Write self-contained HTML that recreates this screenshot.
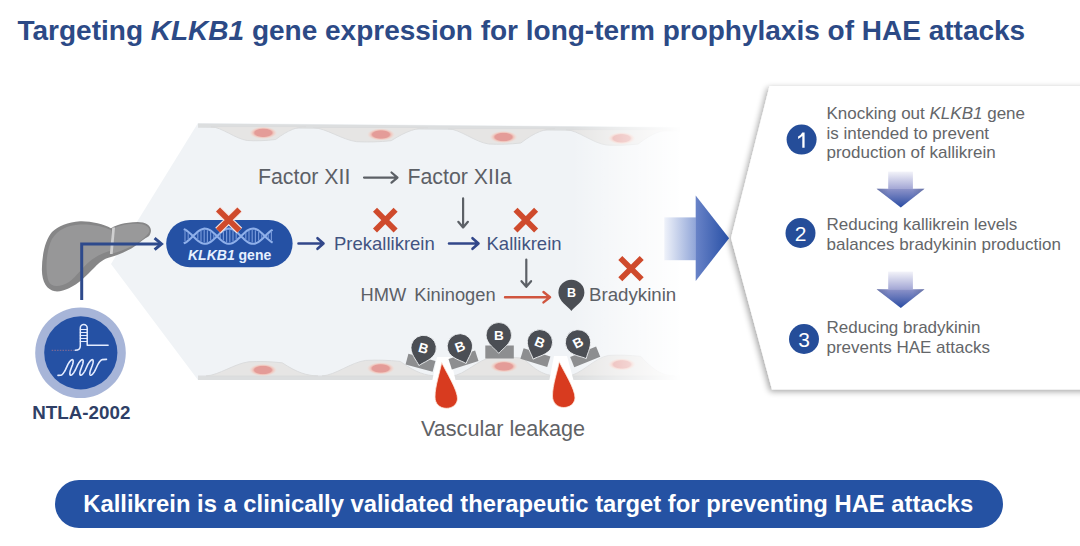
<!DOCTYPE html>
<html><head><meta charset="utf-8">
<style>
html,body{margin:0;padding:0;background:#fff;width:1080px;height:546px;overflow:hidden}
svg{display:block}
text{font-family:"Liberation Sans",sans-serif}
</style></head>
<body>
<svg width="1080" height="546" viewBox="0 0 1080 546">
<defs>
  <linearGradient id="fadeR" x1="0" x2="1" y1="0" y2="0">
    <stop offset="0" stop-color="#fff" stop-opacity="0"/>
    <stop offset="0.4" stop-color="#fff" stop-opacity="0.45"/>
    <stop offset="1" stop-color="#fff" stop-opacity="1"/>
  </linearGradient>
  <linearGradient id="bigArrowBody" gradientUnits="userSpaceOnUse" x1="664" x2="696" y1="0" y2="0">
    <stop offset="0" stop-color="#f0f3fa"/>
    <stop offset="1" stop-color="#90a5d8"/>
  </linearGradient>
  <linearGradient id="bigArrowHead" gradientUnits="userSpaceOnUse" x1="695" x2="729" y1="0" y2="0">
    <stop offset="0" stop-color="#6a84c8"/>
    <stop offset="1" stop-color="#2850a6"/>
  </linearGradient>
  <linearGradient id="daBody" x1="0" x2="0" y1="0" y2="1">
    <stop offset="0" stop-color="#f3f3f9"/>
    <stop offset="1" stop-color="#a3a7d5"/>
  </linearGradient>
  <linearGradient id="daHead" x1="0" x2="0" y1="0" y2="1">
    <stop offset="0" stop-color="#8d93c9"/>
    <stop offset="1" stop-color="#2a4ca3"/>
  </linearGradient>
  <linearGradient id="daWing" x1="0" x2="1" y1="0" y2="0">
    <stop offset="0" stop-color="#4a5a8a" stop-opacity="0.55"/>
    <stop offset="0.25" stop-color="#4a5a8a" stop-opacity="0"/>
    <stop offset="0.75" stop-color="#4a5a8a" stop-opacity="0"/>
    <stop offset="1" stop-color="#4a5a8a" stop-opacity="0.55"/>
  </linearGradient>
  <filter id="shadow" x="-10%" y="-10%" width="130%" height="130%">
    <feGaussianBlur in="SourceAlpha" stdDeviation="3" result="b1"/>
    <feOffset in="b1" dx="-2.5" dy="2" result="o1"/>
    <feComponentTransfer in="o1" result="s1"><feFuncA type="linear" slope="0.36"/></feComponentTransfer>
    <feMerge><feMergeNode in="s1"/><feMergeNode in="SourceGraphic"/></feMerge>
  </filter>
  <filter id="soft" x="-20%" y="-20%" width="140%" height="140%">
    <feGaussianBlur stdDeviation="0.6"/>
  </filter>
  <radialGradient id="nuc" cx="0.5" cy="0.5" r="0.5">
    <stop offset="0.6" stop-color="#e49c98"/>
    <stop offset="0.72" stop-color="#f0c4bb"/>
    <stop offset="1" stop-color="#f3dcd4" stop-opacity="0"/>
  </radialGradient>
  <g id="pin">
    <path d="M0,18.2 C-3,14 -12.7,8.5 -12.7,0 A12.7,12.7 0 1 1 12.7,0 C12.7,8.5 3,14 0,18.2 Z" fill="#4b4e54" stroke="#f4f6f8" stroke-width="0.8"/>
    <text x="0" y="4.9" font-size="13.6" font-weight="bold" fill="#fff" text-anchor="middle">B</text>
  </g>
</defs>

<!-- Title -->
<text x="17.5" y="39.8" font-size="28" font-weight="bold" fill="#2c4a86">Targeting <tspan font-style="italic">KLKB1</tspan> gene expression for long-term prophylaxis of HAE attacks</text>

<!-- Right panel -->
<polygon points="769.5,86 1100,86 1100,389.5 772,389.5 731,238" fill="#fff" filter="url(#shadow)"/>

<!-- Vessel background -->
<polygon points="198,123 680,127 680,380 198,380 111,264" fill="#f0f3f6"/>

<!-- Top wall -->
<g>
  <path d="M198,123.5 L680,127.5 L680,131.5 L198,127.8 Z" fill="#dcdedf"/>
  <path d="M211.0,126.6 C222.4,127.6 234.8,138.5 247.1,140.5 C255.7,141.0 266.1,140.8 275.6,139.5 C288.9,129.6 296.5,127.1 306.0,126.6 Z" fill="#e6e5e4" stroke="#d9dadb" stroke-width="0.9"/>
  <path d="M313.0,127.5 C326.8,128.5 341.8,139.7 356.7,141.7 C367.1,142.2 379.7,142.0 391.2,140.7 C407.3,130.5 416.5,128.0 428.0,127.5 Z" fill="#e6e5e4" stroke="#d9dadb" stroke-width="0.9"/>
  <path d="M448.0,128.6 C460.8,129.6 474.8,142.0 488.7,144.0 C498.3,144.5 510.1,144.3 520.8,143.0 C535.7,131.6 544.3,129.1 555.0,128.6 Z" fill="#e6e5e4" stroke="#d9dadb" stroke-width="0.9"/>
  <path d="M566.0,129.6 C578.7,130.6 592.5,143.0 606.3,145.0 C615.8,145.5 627.5,145.3 638.1,144.0 C652.9,132.6 661.4,130.1 672.0,129.6 Z" fill="#e6e5e4" stroke="#d9dadb" stroke-width="0.9"/>
  <ellipse cx="263.3" cy="132.8" rx="14" ry="6.2" fill="url(#nuc)"/>
  <ellipse cx="381" cy="134.5" rx="14" ry="6.2" fill="url(#nuc)"/>
  <ellipse cx="503.5" cy="137" rx="14" ry="6.2" fill="url(#nuc)"/>
  <ellipse cx="621.7" cy="138.3" rx="14" ry="6.2" fill="url(#nuc)"/>
</g>
<!-- Bottom wall -->
<g>
  <path d="M198,375.5 L680,375.5 L680,380 L198,380 Z" fill="#dcdedf"/>
  <path d="M206.0,376.0 C219.4,375.0 234.0,363.8 248.6,361.8 C258.6,361.3 271.0,361.5 282.2,362.8 C297.8,373.0 306.8,375.5 318.0,376.0 Z" fill="#e6e5e4" stroke="#d9dadb" stroke-width="0.9"/>
  <path d="M322.0,376.0 C335.8,375.0 350.8,362.4 365.7,360.4 C376.1,359.9 388.7,360.1 400.2,361.4 C416.3,373.0 425.5,375.5 437.0,376.0 Z" fill="#e6e5e4" stroke="#d9dadb" stroke-width="0.9"/>
  <path d="M452.0,376.0 C464.6,375.0 478.2,359.3 491.9,357.3 C501.4,356.8 512.9,357.0 523.4,358.3 C538.1,373.0 546.5,375.5 557.0,376.0 Z" fill="#e6e5e4" stroke="#d9dadb" stroke-width="0.9"/>
  <path d="M568.0,376.0 C580.8,375.0 594.8,357.4 608.7,355.4 C618.3,354.9 630.1,355.1 640.8,356.4 C655.7,373.0 664.3,375.5 675.0,376.0 Z" fill="#e6e5e4" stroke="#d9dadb" stroke-width="0.9"/>
  <ellipse cx="263" cy="370" rx="14" ry="6.2" fill="url(#nuc)"/>
  <ellipse cx="380.7" cy="368.4" rx="14" ry="6.2" fill="url(#nuc)"/>
  <ellipse cx="504" cy="366.4" rx="14" ry="6.2" fill="url(#nuc)"/>
  <ellipse cx="622" cy="364.4" rx="14" ry="6.2" fill="url(#nuc)"/>
</g>
<!-- fade to white on right -->
<rect x="572" y="105" width="110" height="290" fill="url(#fadeR)"/>
<!-- leak gaps -->
<path d="M437,357 L450,357 L456,382 L432,382 Z" fill="#fff"/>
<path d="M554,356 L567,356 L574,382 L549,382 Z" fill="#fff"/>

<!-- Big arrow -->
<rect x="664.3" y="217.4" width="31.6" height="42.8" fill="url(#bigArrowBody)"/>
<polygon points="695.7,195.4 729.1,238.2 695.7,281" fill="url(#bigArrowHead)"/>

<!-- Right panel content -->
<g font-size="17" fill="#646669">
  <circle cx="801.6" cy="139.6" r="15" fill="#254d99"/>
  <path d="M802.3,132.4 H804.6 V147.7 H802.3 V136 Q800.6,137.8 798.1,138.9 V136.6 Q800.9,135.1 802.3,132.4 Z" fill="#fff"/>
  <text x="826.5" y="119.2">Knocking out <tspan font-style="italic">KLKB1</tspan> gene</text>
  <text x="826.5" y="138.8">is intended to prevent</text>
  <text x="826.5" y="158.1">production of kallikrein</text>
  <rect x="888.2" y="171.6" width="24.7" height="17.3" fill="url(#daBody)"/>
  <polygon points="876.6,188.7 924.5,188.7 900.8,207.4" fill="url(#daHead)"/>
  <polygon points="876.6,188.7 924.5,188.7 900.8,207.4" fill="url(#daWing)"/>
  <circle cx="800.5" cy="233" r="15" fill="#254d99"/>
  <text x="800.5" y="240.5" font-size="21" fill="#fff" text-anchor="middle">2</text>
  <text x="826.5" y="229.5">Reducing kallikrein levels</text>
  <text x="826.5" y="249.7">balances bradykinin production</text>
  <rect x="888.2" y="271.6" width="24.7" height="17.8" fill="url(#daBody)"/>
  <polygon points="876.6,289.2 924.5,289.2 900.8,307.9" fill="url(#daHead)"/>
  <polygon points="876.6,289.2 924.5,289.2 900.8,307.9" fill="url(#daWing)"/>
  <circle cx="804" cy="339" r="15" fill="#254d99"/>
  <text x="804" y="346.5" font-size="21" fill="#fff" text-anchor="middle">3</text>
  <text x="826.5" y="333">Reducing bradykinin</text>
  <text x="826.5" y="353.3">prevents HAE attacks</text>
</g>

<!-- Pathway texts -->
<g font-size="21.3" fill="#5c6066">
  <text x="258" y="183.9">Factor XII</text>
  <text x="407.5" y="183.9">Factor XIIa</text>
</g>
<g fill="none" stroke="#5c6066" stroke-width="2.2" stroke-linecap="round" stroke-linejoin="round">
  <path d="M364,177.6 H397.5 M391.5,172.5 L397.5,177.6 L391.5,182.7"/>
  <path d="M463.1,198.4 V227.5 M458.3,221.8 L463.1,227.5 L467.9,221.8"/>
  <path d="M526.3,259.6 V286.8 M521.5,281.2 L526.3,286.8 L531.1,281.2"/>
</g>
<g fill="none" stroke="#32478a" stroke-width="2.6" stroke-linecap="round" stroke-linejoin="round">
  <path d="M298.5,243.5 H323.5 M317.5,238.2 L323.5,243.5 L317.5,248.8"/>
  <path d="M449,243.5 H478.5 M472.5,238.2 L478.5,243.5 L472.5,248.8"/>
</g>
<path d="M505,297.2 H550 M543.5,292 L550,297.2 L543.5,302.4" fill="none" stroke="#d0553f" stroke-width="2.4" stroke-linecap="round" stroke-linejoin="round"/>
<g font-size="18.5" fill="#425381">
  <text x="334" y="250.2">Prekallikrein</text>
  <text x="486.5" y="250.2">Kallikrein</text>
</g>
<g font-size="18.3" fill="#5c6066">
  <text x="360.5" y="300.7" word-spacing="3">HMW Kininogen</text>
  <text x="589" y="300.6" font-size="18.7">Bradykinin</text>
</g>
<!-- Bradykinin pin -->
<g transform="translate(571.4,292.8)">
  <path d="M0,18.2 C-3,14 -13,8.5 -13,0 A13,13 0 1 1 13,0 C13,8.5 3,14 0,18.2 Z" fill="#4b4e54"/>
  <text x="0" y="4.5" font-size="12.5" font-weight="bold" fill="#fff" text-anchor="middle">B</text>
</g>

<!-- Red X marks -->
<g stroke="#cf4a2c" stroke-width="5.7" stroke-linecap="butt">
  <path d="M375,209.8 L395.6,230.4 M395.6,209.8 L375,230.4"/>
  <path d="M515.5,209.8 L536.1,230.4 M536.1,209.8 L515.5,230.4"/>
  <path d="M620.3,258 L641.7,279.2 M641.7,258 L620.3,279.2"/>
</g>

<!-- Receptors -->
<g fill="#8d8e90">
  <rect x="-14" y="-5.5" width="28" height="11" transform="translate(420.5,362.7) rotate(15)"/>
  <rect x="-14" y="-5.5" width="28" height="11" transform="translate(463.5,360) rotate(-18)"/>
  <rect x="-14" y="-6.5" width="28.5" height="13" transform="translate(499.3,352)"/>
  <rect x="-14" y="-5.5" width="28" height="11" transform="translate(535.4,357.7) rotate(17)"/>
  <rect x="-14" y="-5.5" width="28" height="11" transform="translate(585.2,356.8) rotate(-22)"/>
</g>
<!-- Pins -->
<use href="#pin" transform="translate(423.6,348) rotate(15)"/>
<use href="#pin" transform="translate(459.9,346.4) rotate(-20)"/>
<use href="#pin" transform="translate(498.8,335.2)"/>
<use href="#pin" transform="translate(539.9,342.3) rotate(22)"/>
<use href="#pin" transform="translate(578,342.4) rotate(-27)"/>

<!-- Drops -->
<path d="M441.7,362.5 C446,372 457.8,390 457.5,399 C457,405 452,408.3 446.3,408.3 C440,408.3 435,404 435,397 C435,386 440,372 441.7,362.5 Z" fill="#d83b1f" stroke="#fde8dc" stroke-width="0.8"/>
<path d="M559.2,361.7 C563.5,371 575.3,389 575,398 C574.5,404 569.5,407.5 563.8,407.5 C557.5,407.5 552.5,403 552.5,396 C552.5,385 557.5,371 559.2,361.7 Z" fill="#d83b1f" stroke="#fde8dc" stroke-width="0.8"/>

<text x="421" y="435.5" font-size="21.6" fill="#5f6266">Vascular leakage</text>

<!-- KLKB1 gene pill -->
<rect x="166.2" y="219.9" width="126.4" height="47.4" rx="23.7" fill="#2551a4"/>
<g fill="none" stroke="#8fb0ea" stroke-width="2.1">
  <path d="M183.7,229.1 L185.2,229.7 L186.7,230.6 L188.1,231.7 L189.6,233.0 L191.1,234.3 L192.6,235.8 L194.1,237.3 L195.6,238.7 L197.0,240.0 L198.5,241.2 L200.0,242.2 L201.5,243.0 L203.0,243.5 L204.4,243.8 L205.9,243.7 L207.4,243.4 L208.9,242.8 L210.4,242.0 L211.9,240.9 L213.3,239.7 L214.8,238.3 L216.3,236.9 L217.8,235.4 L219.3,234.0 L220.7,232.6 L222.2,231.4 L223.7,230.4 L225.2,229.5 L226.7,229.0 L228.2,228.6 L229.6,228.6 L231.1,228.9 L232.6,229.4 L234.1,230.2 L235.6,231.2 L237.0,232.4 L238.5,233.8 L240.0,235.2 L241.5,236.7 L243.0,238.1 L244.4,239.5 L245.9,240.8 L247.4,241.9 L248.9,242.7 L250.4,243.4 L251.9,243.7 L253.3,243.8 L254.8,243.6 L256.3,243.1 L257.8,242.4 L259.3,241.4 L260.7,240.2 L262.2,238.9 L263.7,237.5 L265.2,236.0 L266.7,234.5 L268.2,233.1 L269.6,231.9 L271.1,230.7 L272.6,229.8"/>
  <path d="M183.7,243.3 L185.2,242.7 L186.7,241.8 L188.1,240.7 L189.6,239.4 L191.1,238.1 L192.6,236.6 L194.1,235.1 L195.6,233.7 L197.0,232.4 L198.5,231.2 L200.0,230.2 L201.5,229.4 L203.0,228.9 L204.4,228.6 L205.9,228.7 L207.4,229.0 L208.9,229.6 L210.4,230.4 L211.9,231.5 L213.3,232.7 L214.8,234.1 L216.3,235.5 L217.8,237.0 L219.3,238.4 L220.7,239.8 L222.2,241.0 L223.7,242.0 L225.2,242.9 L226.7,243.4 L228.2,243.8 L229.6,243.8 L231.1,243.5 L232.6,243.0 L234.1,242.2 L235.6,241.2 L237.0,240.0 L238.5,238.6 L240.0,237.2 L241.5,235.7 L243.0,234.3 L244.4,232.9 L245.9,231.6 L247.4,230.5 L248.9,229.7 L250.4,229.0 L251.9,228.7 L253.3,228.6 L254.8,228.8 L256.3,229.3 L257.8,230.0 L259.3,231.0 L260.7,232.2 L262.2,233.5 L263.7,234.9 L265.2,236.4 L266.7,237.9 L268.2,239.3 L269.6,240.5 L271.1,241.7 L272.6,242.6"/>
</g>
<path d="M185.0,230.8V241.6M188.2,232.9V239.5M197.8,232.9V239.5M201.0,230.8V241.6M204.2,229.8V242.6M207.4,230.2V242.2M210.6,231.8V240.6M213.8,234.3V238.1M220.2,234.3V238.1M223.4,231.8V240.6M226.6,230.2V242.2M229.8,229.8V242.6M233.0,230.8V241.6M236.2,232.9V239.5M245.8,232.9V239.5M249.0,230.8V241.6M252.2,229.8V242.6M255.4,230.2V242.2M258.6,231.8V240.6M261.8,234.3V238.1M268.2,234.3V238.1M271.4,231.8V240.6" stroke="#7496d8" stroke-width="1.2" fill="none"/>
<text x="188" y="260" font-size="14" font-weight="bold" fill="#e6f0ff"><tspan font-style="italic">KLKB1</tspan> gene</text>
<!-- X over gene -->
<path d="M218,209.5 L239.4,230.5 M239.4,209.5 L218,230.5" stroke="#f6e6e4" stroke-width="8"/>
<path d="M218,209.5 L239.4,230.5 M239.4,209.5 L218,230.5" stroke="#cf4a2c" stroke-width="5.7"/>

<!-- Liver -->
<path d="M55,291.3 C47,290 42,282 41.9,270 C41.8,256 45,240 52,232 C58,226 68,222 80,221.2 C90,220.8 104,224 111,228.2 C116,225 124,222.5 137.6,222 C146,222 152,226 150.8,232 C150,236 148,237 145.4,238.3 C140,242 136,246 131.4,248.5 C125,252 120,254 115.8,255.5 C110,257.5 106,258 103.4,260 C98,263.5 97,265 94,268 C90,272 87,275 83,278.8 C78,283 74,286 69,288.2 C64,290.3 60,291.8 55,291.3 Z" fill="#868687"/>
<path d="M48.5,281 C45,270 46,251 52,239 C58,229.5 68,225 80,224.5 C92,224 104,226.5 111,230 L111.5,250.5 C104,252.5 96,256 89,262 C82,268 77,276 69,282 C60,287.5 51,287.5 48.5,281 Z" fill="#979798"/>
<path d="M113.5,228.5 C120,225 128,223.8 137,223.8 C145,223.8 150,227 149.3,231.5 C147.5,236 140,242 131,246.5 C124,250 118,252 112.5,253.5 Z" fill="#99999a"/>
<path d="M113.6,227.5 L111.3,254" stroke="#cfcfd0" stroke-width="2.8"/>

<!-- connector -->
<path d="M81.7,300 V243.9 H161" fill="none" stroke="#2e4a8c" stroke-width="3"/>
<path d="M154.6,238.2 L161.5,243.9 L154.6,249.6" fill="none" stroke="#2e4a8c" stroke-width="3" stroke-linejoin="miter"/>

<!-- NTLA circle -->
<circle cx="80.5" cy="352.8" r="45.3" fill="#a7b5d8"/>
<circle cx="80.8" cy="352.8" r="36.6" fill="#2551a4"/>
<g fill="none" stroke="#e4ecff" stroke-width="1.5" stroke-linecap="round" stroke-linejoin="round">
  <path d="M75.2,350.3 Q80.3,350.3 80.3,346 V328 A3.45,3.45 0 0 1 87.2,328 V345.2 H108.1"/>
  <path d="M80.3,329.5 H87.2 M80.3,332.5 H87.2 M80.3,335.5 H87.2 M80.3,338.5 H87.2 M80.3,341.5 H87.2" stroke-width="1.1"/>
  <path d="M58,375.4 L60.72,375.25 L60.91,375.23 L61.11,375.17 L61.32,375.08 L61.55,374.94 L61.80,374.77 L62.07,374.55 L62.36,374.28 L62.66,373.96 L63.00,373.59 L63.36,373.14 L63.76,372.60 L64.22,371.92 L64.78,371.01 L65.63,369.40 L67.81,364.63 L68.48,363.46 L68.98,362.67 L69.41,362.06 L69.80,361.56 L70.15,361.14 L70.47,360.79 L70.77,360.50 L71.05,360.25 L71.31,360.05 L71.55,359.89 L71.77,359.78 L71.98,359.70 L72.17,359.66 L72.35,359.65 L72.51,359.69 L72.65,359.76 L72.78,359.87 L72.89,360.03 L72.99,360.22 L73.06,360.46 L73.12,360.75 L73.15,361.09 L73.15,361.50 L73.12,361.98 L73.05,362.57 L72.91,363.33 L72.62,364.42 L70.90,368.93 L70.27,370.85 L70.04,371.81 L69.93,372.51 L69.87,373.07 L69.85,373.53 L69.86,373.91 L69.90,374.24 L69.96,374.51 L70.04,374.74 L70.14,374.92 L70.25,375.06 L70.39,375.16 L70.53,375.23 L70.70,375.25 L70.88,375.24 L71.08,375.18 L71.29,375.09 L71.52,374.97 L71.76,374.80 L72.03,374.58 L72.31,374.32 L72.62,374.01 L72.95,373.64 L73.31,373.21 L73.70,372.68 L74.15,372.03 L74.69,371.16 L75.46,369.75 L77.68,364.87 L78.39,363.59 L78.92,362.77 L79.36,362.14 L79.75,361.63 L80.10,361.20 L80.43,360.84 L80.73,360.54 L81.01,360.28 L81.27,360.08 L81.52,359.91 L81.74,359.79 L81.95,359.71 L82.15,359.66 L82.33,359.65 L82.49,359.68 L82.63,359.75 L82.76,359.86 L82.88,360.00 L82.97,360.19 L83.05,360.42 L83.11,360.70 L83.14,361.04 L83.15,361.43 L83.13,361.91 L83.06,362.48 L82.93,363.21 L82.68,364.23 L81.50,367.45 L80.32,370.67 L80.07,371.69 L79.94,372.42 L79.87,372.99 L79.85,373.47 L79.86,373.86 L79.89,374.20 L79.95,374.48 L80.03,374.71 L80.12,374.90 L80.24,375.04 L80.37,375.15 L80.51,375.22 L80.67,375.25 L80.85,375.24 L81.05,375.19 L81.26,375.11 L81.48,374.99 L81.73,374.82 L81.99,374.62 L82.27,374.36 L82.57,374.06 L82.90,373.70 L83.25,373.27 L83.64,372.76 L84.08,372.13 L84.61,371.31 L85.32,370.03 L87.54,365.15 L88.31,363.74 L88.85,362.87 L89.30,362.22 L89.69,361.69 L90.05,361.26 L90.38,360.89 L90.69,360.58 L90.97,360.32 L91.24,360.10 L91.48,359.93 L91.71,359.81 L91.92,359.72 L92.12,359.66 L92.30,359.65 L92.47,359.67 L92.61,359.74 L92.75,359.84 L92.86,359.98 L92.96,360.16 L93.04,360.39 L93.10,360.66 L93.14,360.99 L93.15,361.37 L93.13,361.83 L93.07,362.39 L92.96,363.09 L92.73,364.05 L92.10,365.97 L90.38,370.48 L90.09,371.57 L89.95,372.33 L89.88,372.92 L89.85,373.40 L89.85,373.81 L89.88,374.15 L89.94,374.44 L90.01,374.68 L90.11,374.87 L90.22,375.03 L90.35,375.14 L90.49,375.21 L90.65,375.25 L90.83,375.24 L91.02,375.20 L91.23,375.12 L91.45,375.01 L91.69,374.85 L91.95,374.65 L92.23,374.40 L92.53,374.11 L92.85,373.76 L93.20,373.34 L93.59,372.84 L94.02,372.23 L94.52,371.44 L95.19,370.27 L97.37,365.50 L98.22,363.89 L98.78,362.98 L99.24,362.30 L99.64,361.76 L100.00,361.31 L100.34,360.94 L100.64,360.62 L100.93,360.35 L101.20,360.13 L101.45,359.96 L101.68,359.82 L101.89,359.73 L102.09,359.67 L102.28,359.65 L106.5,359.4" stroke-width="1.6"/>
</g>
<path d="M51.7,350.3 H74" stroke="#b87a8a" stroke-width="1" stroke-dasharray="1.5 1.2" opacity="0.7"/>
<text x="32.3" y="419.3" font-size="18.8" font-weight="bold" fill="#2f3f66">NTLA-2002</text>

<!-- Bottom banner -->
<rect x="55" y="480" width="948" height="48" rx="24" fill="#2552a3"/>
<text x="83.3" y="511.8" font-size="23.8" font-weight="bold" fill="#fff">Kallikrein is a clinically validated therapeutic target for preventing HAE attacks</text>

</svg>
</body></html>
